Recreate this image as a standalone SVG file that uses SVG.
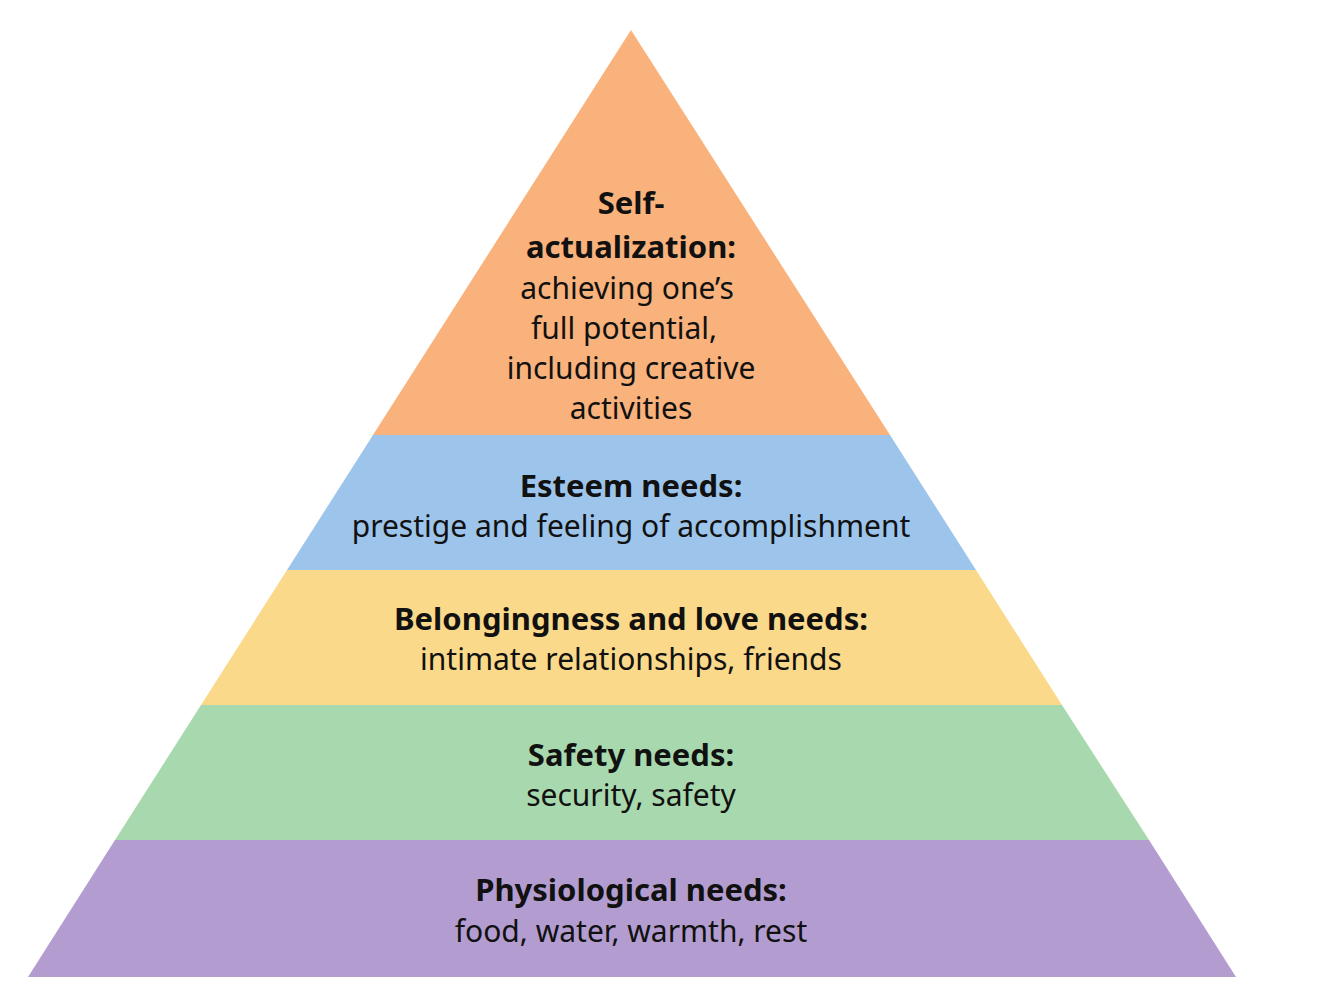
<svg xmlns="http://www.w3.org/2000/svg" width="1344" height="1000" viewBox="0 0 1344 1000">
<style>
text{font-family:"Noto Sans","Liberation Sans",sans-serif;fill:#111;text-anchor:middle}
.b{font-weight:bold;font-size:31px}
.r{font-size:30px}
</style>
<rect width="1344" height="1000" fill="#fff"/>
<g id="self"><polygon points="631,30 890,435 373,435" fill="#F9B27B"/>
<text class="b" x="631" y="214">Self-</text>
<text class="b" x="631" y="258">actualization:</text>
<text class="r" x="627" y="299">achieving one’s</text>
<text class="r" x="624" y="339">full potential,</text>
<text class="r" x="631" y="379">including creative</text>
<text class="r" x="631" y="419">activities</text></g>
<g id="esteem"><polygon points="373,435 890,435 976,570 287,570" fill="#9DC5EC"/>
<text class="b" x="631" y="497">Esteem needs:</text>
<text class="r" x="631" y="537">prestige and feeling of accomplishment</text></g>
<g id="belong"><polygon points="287,570 976,570 1062,705 201,705" fill="#FBD98A"/>
<text class="b" x="631" y="630">Belongingness and love needs:</text>
<text class="r" x="631" y="670">intimate relationships, friends</text></g>
<g id="safety"><polygon points="201,705 1062,705 1149,840 115,840" fill="#A8D9AE"/>
<text class="b" x="631" y="766">Safety needs:</text>
<text class="r" x="631" y="806">security, safety</text></g>
<g id="phys"><polygon points="115,840 1149,840 1236,977 28,977" fill="#B39DD0"/>
<text class="b" x="631" y="901">Physiological needs:</text>
<text class="r" x="631" y="942">food, water, warmth, rest</text></g>
</svg>
